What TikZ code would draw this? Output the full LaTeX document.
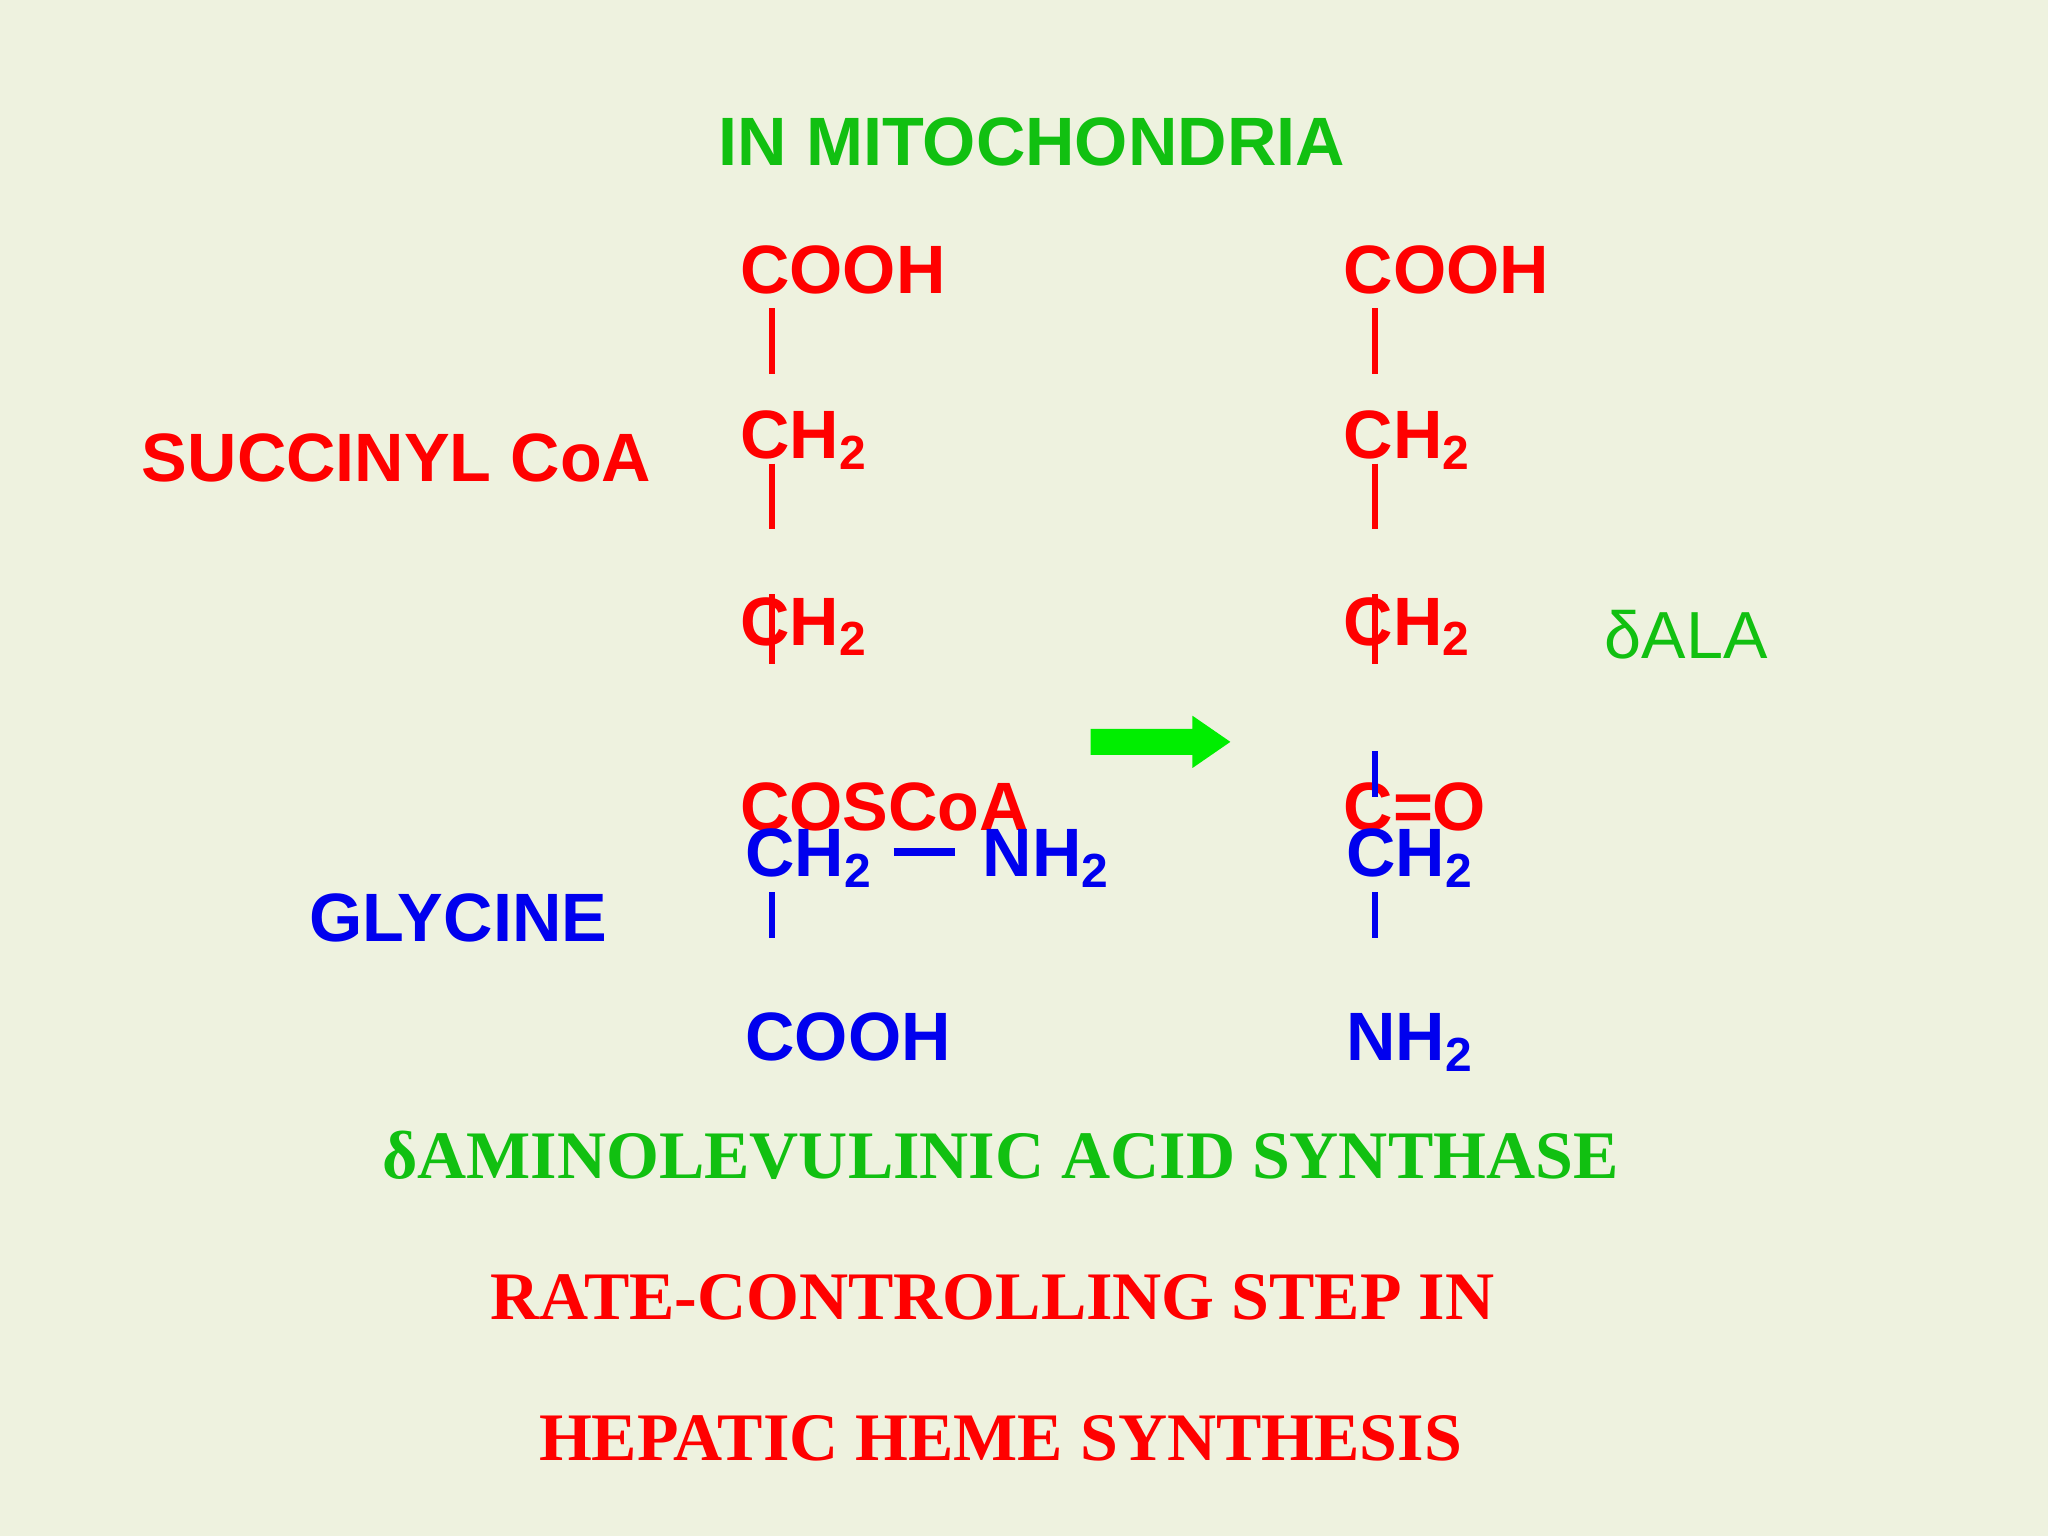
\documentclass[tikz,border=0pt]{standalone}
\usepackage{fontspec}
\setmainfont{Liberation Serif}
\setsansfont{Liberation Sans}
\definecolor{bg}{HTML}{EEF2DF}
\definecolor{gr}{HTML}{11C011}
\definecolor{ar}{HTML}{00EE00}
\definecolor{rd}{HTML}{FF0000}
\definecolor{bl}{HTML}{0000EE}
\begin{document}
\begin{tikzpicture}[x=0.01cm,y=-0.01cm,
 t/.style={inner sep=0pt,anchor=base west,font=\sffamily\bfseries\fontsize{14.9}{17}\selectfont},
 s/.style={inner sep=0pt,anchor=base,font=\rmfamily\bfseries\fontsize{14.8}{17}\selectfont},
 bar/.style={line width=0.045cm}]
\fill[bg] (0,0) rectangle (1568,1176);
\useasboundingbox (0,0) rectangle (1568,1176);
\newcommand{\ch}{CH\textsubscript{2}}
\node[t,gr,anchor=base] (title) at (790,127) {IN MITOCHONDRIA};
\node[t,rd] (suc) at (108,369) {SUCCINYL CoA};
\node[t,bl] (gly) at (236,721) {GLYCINE};
% left column
\node[t,rd] (l1) at (566,225) {COOH};
\node[t,rd] (l2) at (566,351) {\ch};
\node[t,rd] (l3) at (566,494) {\ch};
\node[t,rd] (l4) at (566,636) {COSCoA};
\node[t,bl] (l5) at (570,671) {\ch{}\hspace{0.3em}\rule[0.3em]{0.9em}{0.11em}\hspace{0.4em}NH\textsubscript{2}};
\node[t,bl] (l6) at (570,812) {COOH};
\draw[bar,rd] (591,236) -- (591,286);
\draw[bar,rd] (591,355) -- (591,405);
\draw[bar,rd] (591,455) -- (591,508);
\draw[bar,bl] (591,683) -- (591,718);
% right column
\node[t,rd] (r1) at (1028,225) {COOH};
\node[t,rd] (r2) at (1028,351) {\ch};
\node[t,rd] (r3) at (1028,494) {\ch};
\node[t,rd] (r4) at (1028,636) {C=O};
\node[t,bl] (r5) at (1030,671) {\ch};
\node[t,bl] (r6) at (1030,812) {NH\textsubscript{2}};
\draw[bar,rd] (1053,236) -- (1053,286);
\draw[bar,rd] (1053,355) -- (1053,405);
\draw[bar,rd] (1053,455) -- (1053,508);
\draw[bar,bl] (1053,575) -- (1053,610);
\draw[bar,bl] (1053,683) -- (1053,718);
\node[inner sep=0pt,anchor=base west,gr,font=\sffamily\fontsize{14.5}{17}\selectfont] (ala) at (1228,504) {δALA};
% arrow
\fill[ar] (835,558) -- (913,558) -- (913,548) -- (942,568) -- (913,588) -- (913,578) -- (835,578) -- cycle;
\node[s,gr] (en) at (766,902) {δAMINOLEVULINIC ACID SYNTHASE};
\node[s,rd] (rc) at (760,1010) {RATE-CONTROLLING STEP IN};
\node[s,rd] (hh) at (766,1118) {HEPATIC HEME SYNTHESIS};
\end{tikzpicture}
\end{document}
